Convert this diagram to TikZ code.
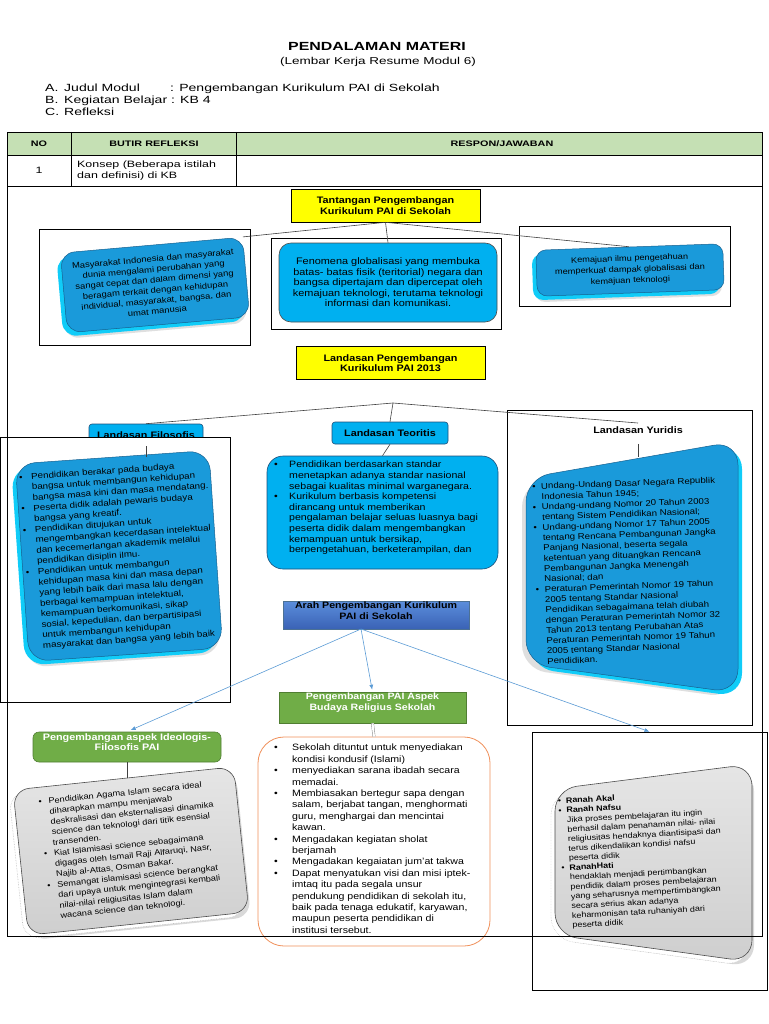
\documentclass[tikz,border=0pt]{standalone}
\usepackage{fontspec}
\setmainfont{Liberation Sans}[FakeStretch=1.15]
\newfontfamily\headfont{Liberation Sans}[FakeStretch=1.35]
\usetikzlibrary{arrows.meta, shadows}

\definecolor{kuningtua}{HTML}{FFFF00}
\definecolor{hijaumuda}{HTML}{C5E0B4}
\definecolor{birukotak}{HTML}{00B0F0}
\definecolor{birugaris}{HTML}{1F4E79}
\definecolor{slabface}{HTML}{1A9ADA}
\definecolor{slabside}{HTML}{10CCF8}
\definecolor{slabline}{HTML}{17608F}
\definecolor{hijaudaun}{HTML}{70AD47}
\definecolor{hijaugaris}{HTML}{507E32}
\definecolor{arahatas}{HTML}{5B8EDC}
\definecolor{arahbawah}{HTML}{3A62B5}
\definecolor{panahbiru}{HTML}{5B9BD5}
\definecolor{oranye}{HTML}{F0905A}

\newlength{\listind}
\setlength{\listind}{12pt}
\newcommand{\ukuran}[2]{\fontsize{#1}{#2}\selectfont}
\newcommand{\bpt}{\makebox[\listind][l]{\textbullet}}
\newcommand{\bct}{\hspace*{\listind}}

\tikzset{
  teks/.style={font=\headfont\ukuran{10.4}{12}, inner sep=0pt, anchor=base west},
  kepala/.style={font=\headfont\bfseries\ukuran{8}{10}},
  bingkai/.style={draw, fill=white, line width=.6pt, inner sep=0pt},
  garis/.style={draw=black!75, line width=.6pt},
  panah/.style={draw=panahbiru, line width=.6pt, -{Latex[length=5pt, width=4pt]}},
  kuning/.style={draw, fill=kuningtua, line width=.6pt, align=center, minimum width=189pt, minimum height=33pt, font=\bfseries\ukuran{9.4}{10.5}},
  labelbox/.style={draw=birugaris, fill=birukotak, rounded corners=3pt, line width=.6pt, minimum height=22pt, font=\bfseries\ukuran{9.4}{11}},
  kotak/.style={draw=birugaris, fill=birukotak, line width=.6pt},
  slab/.style={draw=slabline, line width=.5pt, fill=slabface, drop shadow={shadow xshift=-2pt, shadow yshift=-6pt, opacity=.25}, preaction={fill=slabside, transform canvas={shift={(-4pt,-4pt)}}}},
  slabr/.style={draw=slabline, line width=.5pt, fill=slabface, drop shadow={shadow xshift=-4pt, shadow yshift=-5pt, opacity=.25}, preaction={fill=slabside, transform canvas={shift={(4pt,-4pt)}}}},
  greyslab/.style={draw=gray!60!black, line width=.6pt, top color=gray!20, bottom color=gray!38, drop shadow={shadow xshift=2pt, shadow yshift=-5pt, opacity=.3}, preaction={fill=white, draw=gray!50, densely dotted, transform canvas={shift={(-4pt,-4pt)}}}},
  hijau/.style={draw=hijaugaris, fill=hijaudaun, line width=.6pt},
  hijauteks/.style={text=white, font=\bfseries\ukuran{9.2}{11}, align=center, inner sep=0pt},
  daftar/.style={align=left, inner sep=0pt}
}

\begin{document}
\begin{tikzpicture}[x=1pt, y=-1pt]
  \useasboundingbox (0,0) rectangle (768,1024);
  % Heading
  \node[font=\headfont\bfseries\ukuran{11.8}{14}] (judul) at (377,46) {PENDALAMAN MATERI};
  \node[font=\headfont\ukuran{10}{12}] (subjudul) at (378,62) {(Lembar Kerja Resume Modul 6)};
  % Module data
  \node[teks] (la) at (45,92) {A.};
  \node[teks] (lajudul) at (64,92) {Judul Modul};
  \node[teks] (laisi) at (170,92) {: Pengembangan Kurikulum PAI di Sekolah};
  \node[teks] (lb) at (45,104) {B.};
  \node[teks] (lbisi) at (64,104) {Kegiatan Belajar : KB 4};
  \node[teks] (lc) at (45,115.5) {C.};
  \node[teks] (lcisi) at (64,115.5) {Refleksi};
  % Table header and first row
  \fill[hijaumuda] (7,132) rectangle (762,155);
  \node[kepala] (hno) at (39,143.5) {NO};
  \node[kepala] (hbutir) at (154,143.5) {BUTIR REFLEKSI};
  \node[kepala] (hrespon) at (502,143.5) {RESPON/JAWABAN};
  \node[font=\headfont\ukuran{9.2}{11}] (no1) at (39,170.5) {1};
  \node[font=\headfont\ukuran{9.2}{11}, align=left, anchor=west, inner sep=0pt] (butir1) at (77,170.5) {Konsep (Beberapa istilah\\dan definisi) di KB};

  % Tantangan pengembangan
  \node[kuning] (tant) at (385.5,205.5) {Tantangan Pengembangan\\Kurikulum PAI di Sekolah};
  \node[bingkai, minimum width=211pt, minimum height=116pt] (frA) at (144.5,287) {};
  \node[bingkai, minimum width=230pt, minimum height=91pt] (frB) at (386,283.5) {};
  \node[bingkai, minimum width=211pt, minimum height=80pt] (frC) at (624.5,266) {};
  \node[slab, rotate=5, minimum width=183pt, minimum height=80pt, rounded corners=14pt, align=center, font=\ukuran{8.2}{10.5}] (slabA) at (155,285)
    {Masyarakat Indonesia dan masyarakat\\dunia mengalami perubahan yang\\sangat cepat dan dalam dimensi yang\\beragam terkait dengan kehidupan\\individual, masyarakat, bangsa, dan\\umat manusia};
  \node[kotak, draw=gray!60!black, minimum width=218pt, minimum height=79pt, rounded corners=12pt, align=center, font=\ukuran{9.5}{10.5}] (fenom) at (388,282.5)
    {Fenomena globalisasi yang membuka\\batas- batas fisik (teritorial) negara dan\\bangsa dipertajam dan dipercepat oleh\\kemajuan teknologi, terutama teknologi\\informasi dan komunikasi.};
  \node[slab, rotate=2, minimum width=187pt, minimum height=46pt, rounded corners=10pt, align=center, font=\ukuran{8}{11}] (slabC) at (630,270)
    {Kemajuan ilmu pengetahuan\\memperkuat dampak globalisasi dan\\kemajuan teknologi};
  \draw[garis] (tant.south) -- (slabA.north east);
  \draw[garis] (tant.south) -- (fenom.north);
  \draw[garis] (tant.south) -- (slabC.north);

  % Landasan pengembangan
  \node[kuning] (lpeng) at (390.5,363) {Landasan Pengembangan\\Kurikulum PAI 2013};
  \coordinate (cabang) at (393,403);
  \node[labelbox, minimum width=114pt] (filo) at (146,435) {Landasan Filosofis};
  \node[bingkai, minimum width=230pt, minimum height=265pt] (frF) at (115,569.5) {};
  \node[labelbox, minimum width=116pt] (teori) at (390,433) {Landasan Teoritis};
  \node[bingkai, minimum width=245pt, minimum height=315pt] (frY) at (629.5,567.5) {};
  \node[font=\bfseries\ukuran{9.4}{11}] (yurlab) at (638,430) {Landasan Yuridis};
  \coordinate (yurtop) at (638,457);
  % Filosofis
  \node[slab, rotate=4, minimum width=190pt, minimum height=198pt, rounded corners=20pt, daftar, inner sep=3pt, font=\ukuran{8.5}{10.6}] (slabF) at (119,556)
    {\bpt Pendidikan berakar pada budaya\\
     \bct bangsa untuk membangun kehidupan\\
     \bct bangsa masa kini dan masa mendatang.\\
     \bpt Peserta didik adalah pewaris budaya\\
     \bct bangsa yang kreatif.\\
     \bpt Pendidikan ditujukan untuk\\
     \bct mengembangkan kecerdasan intelektual\\
     \bct dan kecemerlangan akademik melalui\\
     \bct pendidikan disiplin ilmu.\\
     \bpt Pendidikan untuk membangun\\
     \bct kehidupan masa kini dan masa depan\\
     \bct yang lebih baik dari masa lalu dengan\\
     \bct berbagai kemampuan intelektual,\\
     \bct kemampuan berkomunikasi, sikap\\
     \bct sosial, kepedulian, dan berpartisipasi\\
     \bct untuk membangun kehidupan\\
     \bct masyarakat dan bangsa yang lebih baik};
  % Teoritis
  \node[kotak, minimum width=231pt, minimum height=113pt, rounded corners=16pt] (teorbox) at (382.5,512.5) {};
  \node[daftar, anchor=north west, font=\ukuran{9.2}{10.6}, execute at begin node={\setlength{\listind}{15pt}}] (teortext) at (274,461)
    {\bpt Pendidikan berdasarkan standar\\
     \bct menetapkan adanya standar nasional\\
     \bct sebagai kualitas minimal warganegara.\\
     \bpt Kurikulum berbasis kompetensi\\
     \bct dirancang untuk memberikan\\
     \bct pengalaman belajar seluas luasnya bagi\\
     \bct peserta didik dalam mengembangkan\\
     \bct kemampuan untuk bersikap,\\
     \bct berpengetahuan, berketerampilan, dan};
  % Yuridis
  \draw[slabr, rounded corners=24pt] (526,478) -- (738,441) -- (738,693) -- (526,664) -- cycle;
  \node[daftar, anchor=west, rotate=2, font=\ukuran{8.4}{10.3}, execute at begin node={\setlength{\listind}{9pt}}] (yurtext) at (535,574)
    {\bpt Undang-Undang Dasar Negara Republik\\
     \bct Indonesia Tahun 1945;\\
     \bpt Undang-undang Nomor 20 Tahun 2003\\
     \bct tentang Sistem Pendidikan Nasional;\\
     \bpt Undang-undang Nomor 17 Tahun 2005\\
     \bct tentang Rencana Pembangunan Jangka\\
     \bct Panjang Nasional, beserta segala\\
     \bct ketentuan yang dituangkan Rencana\\
     \bct Pembangunan Jangka Menengah\\
     \bct Nasional; dan\\
     \bpt Peraturan Pemerintah Nomor 19 Tahun\\
     \bct 2005 tentang Standar Nasional\\
     \bct Pendidikan sebagaimana telah diubah\\
     \bct dengan Peraturan Pemerintah Nomor 32\\
     \bct Tahun 2013 tentang Perubahan Atas\\
     \bct Peraturan Pemerintah Nomor 19 Tahun\\
     \bct 2005 tentang Standar Nasional\\
     \bct Pendidikan.};
  \draw[garis] (cabang) -- (filo.north);
  \draw[garis] (cabang) -- (teori.north);
  \draw[garis] (cabang) -- (yurlab.north);
  \draw[garis] (filo.south) -- (filo.south |- slabF.north);
  \draw[garis] (teori.south) -- (teorbox.north);
  \draw[garis, shorten <=7pt] (yurlab.south) -- (yurtop);

  % Arah pengembangan
  \node[draw=birugaris!80, top color=arahatas, bottom color=arahbawah, minimum width=186pt, minimum height=28pt] (arah) at (376,615) {};
  \node[font=\bfseries\ukuran{9.25}{11}, align=center] (arahtext) at (376,610.5) {Arah Pengembangan Kurikulum\\PAI di Sekolah};
  \coordinate (arahkaki) at (361,629);
  % Ideologis-filosofis
  \node[hijau, rounded corners=6pt, minimum width=188pt, minimum height=30pt] (ideo) at (127,747) {};
  \node[hijauteks, font=\bfseries\ukuran{9.4}{8.6}] (ideotext) at (127,742.5) {Pengembangan aspek Ideologis-\\Filosofis PAI};
  \node[greyslab, rotate=6, minimum width=222pt, minimum height=146pt, rounded corners=16pt, daftar, inner sep=3pt, font=\ukuran{8}{10.5}, execute at begin node={\setlength{\listind}{10pt}}] (slabI) at (131,851)
    {\bpt Pendidikan Agama Islam secara ideal\\
     \bct diharapkan mampu menjawab\\
     \bct deskralisasi dan eksternalisasi dinamika\\
     \bct science dan teknologi dari titik esensial\\
     \bct transenden.\\
     \bpt Kiat Islamisasi science sebagaimana\\
     \bct digagas oleh Ismail Raji Alfaruqi, Nasr,\\
     \bct Najib al-Attas, Osman Bakar.\\
     \bpt Semangat islamisasi science berangkat\\
     \bct dari upaya untuk mengintegrasi kembali\\
     \bct nilai-nilai religiusitas Islam dalam\\
     \bct wacana science dan teknologi.};
  \draw[garis] (ideo.south) -- (ideo.south |- slabI.north);
  % Budaya religius
  \node[hijau, minimum width=187pt, minimum height=31pt] (budaya) at (372.5,707.5) {};
  \node[hijauteks] (budayatext) at (372.5,703) {Pengembangan PAI Aspek\\Budaya Religius Sekolah};
  \node[draw=oranye, line width=.8pt, fill=white, minimum width=232pt, minimum height=209pt, rounded corners=26pt] (religi) at (374,841.5) {};
  \node[daftar, anchor=north west, font=\ukuran{9.2}{11.4}, execute at begin node={\setlength{\listind}{18pt}}] (religitext) at (274,744)
    {\bpt Sekolah dituntut untuk menyediakan\\
     \bct kondisi kondusif (Islami)\\
     \bpt menyediakan sarana ibadah secara\\
     \bct memadai.\\
     \bpt Membiasakan bertegur sapa dengan\\
     \bct salam, berjabat tangan, menghormati\\
     \bct guru, menghargai dan mencintai\\
     \bct kawan.\\
     \bpt Mengadakan kegiatan sholat\\
     \bct berjamah\\
     \bpt Mengadakan kegaiatan jum'at takwa\\
     \bpt Dapat menyatukan visi dan misi iptek-\\
     \bct imtaq itu pada segala unsur\\
     \bct pendukung pendidikan di sekolah itu,\\
     \bct baik pada tenaga edukatif, karyawan,\\
     \bct maupun peserta pendidikan di\\
     \bct institusi tersebut.};
  \draw[draw=gray, double=white, double distance=2pt] (budaya.south) -- (religi.north);
  % Ranah
  \node[bingkai, minimum width=235pt, minimum height=258pt] (frR) at (649.5,861) {};
  \draw[greyslab, rounded corners=22pt] (555,789) -- (752,764) -- (752,962) -- (555,935) -- cycle;
  \node[daftar, anchor=west, rotate=3, font=\ukuran{7.8}{9.6}, execute at begin node={\setlength{\listind}{8pt}}] (ranahtext) at (561,864)
    {\bpt\textbf{Ranah Akal}\\
     \bpt\textbf{Ranah Nafsu}\\
     \bct Jika proses pembelajaran itu ingin\\
     \bct berhasil dalam penanaman nilai- nilai\\
     \bct religiusitas hendaknya diantisipasi dan\\
     \bct terus dikendalikan kondisi nafsu\\
     \bct peserta didik\\
     \bpt\textbf{RanahHati}\\
     \bct hendaklah menjadi pertimbangkan\\
     \bct pendidik dalam proses pembelajaran\\
     \bct yang seharusnya mempertimbangkan\\
     \bct secara serius akan adanya\\
     \bct keharmonisan tata ruhaniyah dari\\
     \bct peserta didik};
  \draw[panah, shorten >=4pt] (arahkaki) -- (ideo.north);
  \draw[panah, shorten >=2pt] (arahkaki) -- (budaya.north);
  \draw[panah] (arahkaki) -- (frR.north);

  % Table borders
  \draw[line width=.8pt] (7,132) rectangle (762,936);
  \draw[line width=.8pt] (7,155) -- (762,155);
  \draw[line width=.8pt] (7,186) -- (762,186);
  \draw[line width=.8pt] (71,132) -- (71,186);
  \draw[line width=.8pt] (236,132) -- (236,186);
\end{tikzpicture}
\end{document}
